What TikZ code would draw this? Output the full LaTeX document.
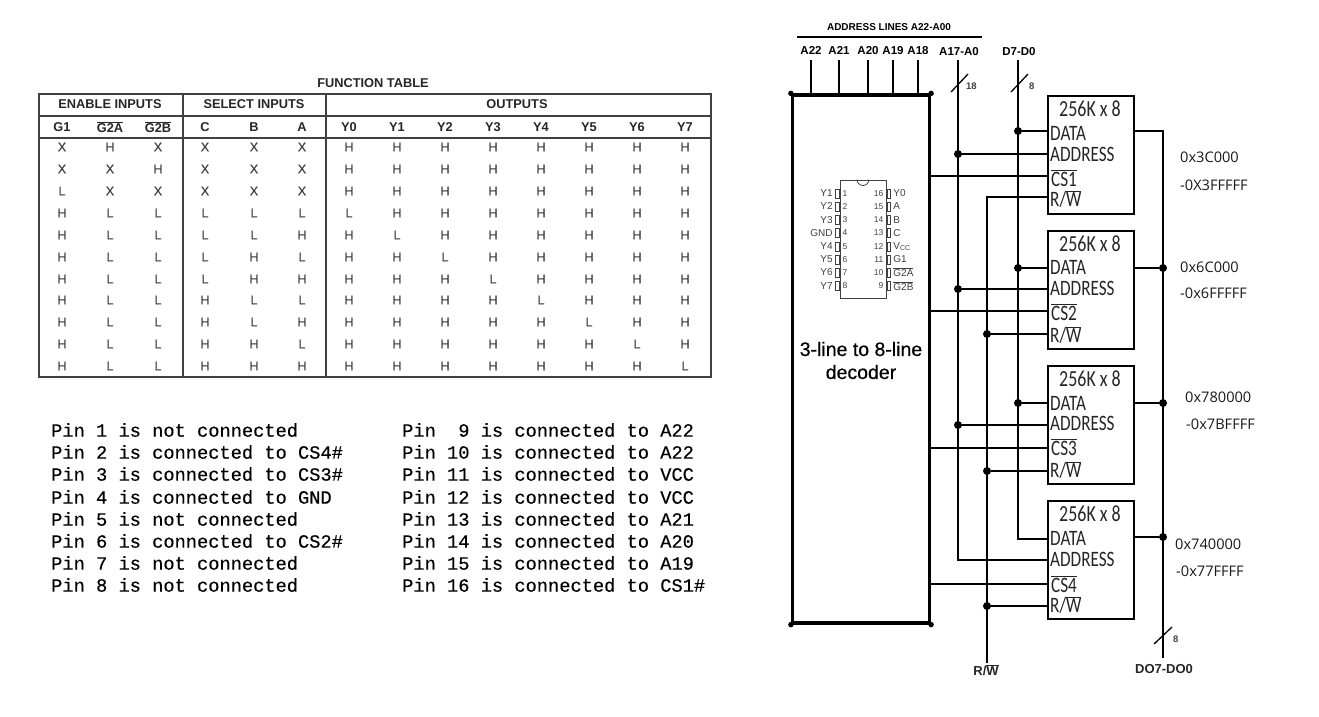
\documentclass[tikz,border=0pt]{standalone}
\usepackage{fontspec}
\setmainfont{Liberation Sans}
\setmonofont[FakeBold=0.4]{Liberation Mono}
\newfontfamily\ramfont[FakeStretch=0.78]{Carlito}
\newfontfamily\addrfont{Open Sans}
\newfontfamily\softbold[FakeBold=0.5]{Liberation Sans}
\usetikzlibrary{calc}
\newcommand{\ovl}[1]{\ensuremath{\overline{\mbox{#1}}}}
\definecolor{inkgray}{gray}{0.25}
\tikzset{
	cell/.style={anchor=center, inner sep=0pt, text=inkgray, font=\softbold\fontsize{12.5}{14}\selectfont},
	head/.style={anchor=center, inner sep=0pt, text=black!85, font=\bfseries\fontsize{12.8}{14}\selectfont},
	rule/.style={draw=inkgray, line width=1.4pt},
	pinline/.style={anchor=west, inner sep=0pt, font=\ttfamily\fontsize{18.7}{22}\selectfont},
	wire/.style={draw=black, line width=1.8pt},
	junct/.style={circle, fill=black, inner sep=0pt, minimum size=8pt},
	corner/.style={circle, fill=black, inner sep=0pt, minimum size=5.5pt},
	ram/.style={draw=black, line width=2pt, minimum width=86pt, minimum height=118pt, inner sep=0pt},
	ramtext/.style={anchor=west, inner sep=0pt, text=black!85, font=\ramfont\fontsize{22}{24}\selectfont},
	ramtitle/.style={anchor=center, inner sep=0pt, text=black!85, font=\ramfont\fontsize{23}{26}\selectfont},
	buslabel/.style={anchor=center, inner sep=0pt, font=\bfseries\fontsize{11.5}{13}\selectfont},
	endlabel/.style={anchor=center, inner sep=0pt, text=black!85, font=\bfseries\fontsize{13}{15}\selectfont},
	addr/.style={anchor=west, inner sep=0pt, text=black!90, font=\addrfont\fontsize{14.6}{16}\selectfont},
	stub/.style={draw=inkgray, line width=0.7pt, minimum width=3.5pt, minimum height=9pt, inner sep=0pt},
	pinname/.style={inner sep=0pt, text=inkgray, font=\fontsize{10}{11}\selectfont},
	pinno/.style={inner sep=0pt, text=inkgray, font=\fontsize{8.5}{10}\selectfont},
	decname/.style={anchor=center, inner sep=0pt, font=\softbold\fontsize{19.5}{21}\selectfont},
}

\begin{document}
\begin{tikzpicture}[x=1pt, y=-1pt]
	\useasboundingbox (0, 0) rectangle (1319, 716);
	% function table
	\node(tabletitle)[head] at (373, 83) {FUNCTION TABLE};
	\draw[rule] (39, 94) rectangle (711, 377);
	\draw[rule] (39, 116) -- (711, 116);
	\draw[rule] (39, 138) -- (711, 138);
	\draw[rule] (183, 94) -- (183, 377);
	\draw[rule] (326, 94) -- (326, 377);
	\node(henable)[head] at (110, 104.5) {ENABLE INPUTS};
	\node(hselect)[head] at (254, 104.5) {SELECT INPUTS};
	\node(houtputs)[head] at (517, 104.5) {OUTPUTS};
	\node(hc1)[head] at (62, 127) {G1};
	\node(hc2)[head] at (110, 127) {\ovl{G2A}};
	\node(hc3)[head] at (158, 127) {\ovl{G2B}};
	\node(hc4)[head] at (205, 127) {C};
	\node(hc5)[head] at (254, 127) {B};
	\node(hc6)[head] at (302, 127) {A};
	\node(hc7)[head] at (349, 127) {Y0};
	\node(hc8)[head] at (397, 127) {Y1};
	\node(hc9)[head] at (445, 127) {Y2};
	\node(hc10)[head] at (493, 127) {Y3};
	\node(hc11)[head] at (541, 127) {Y4};
	\node(hc12)[head] at (589, 127) {Y5};
	\node(hc13)[head] at (637, 127) {Y6};
	\node(hc14)[head] at (685, 127) {Y7};
	% column G1
	\node(r1c1)[cell] at (62, 147) {X};
	\node(r2c1)[cell] at (62, 169) {X};
	\node(r3c1)[cell] at (62, 191) {L};
	\node(r4c1)[cell] at (62, 213) {H};
	\node(r5c1)[cell] at (62, 235) {H};
	\node(r6c1)[cell] at (62, 257) {H};
	\node(r7c1)[cell] at (62, 279) {H};
	\node(r8c1)[cell] at (62, 300) {H};
	\node(r9c1)[cell] at (62, 322) {H};
	\node(r10c1)[cell] at (62, 344) {H};
	\node(r11c1)[cell] at (62, 366) {H};
	% column G2A
	\node(r1c2)[cell] at (110, 147) {H};
	\node(r2c2)[cell] at (110, 169) {X};
	\node(r3c2)[cell] at (110, 191) {X};
	\node(r4c2)[cell] at (110, 213) {L};
	\node(r5c2)[cell] at (110, 235) {L};
	\node(r6c2)[cell] at (110, 257) {L};
	\node(r7c2)[cell] at (110, 279) {L};
	\node(r8c2)[cell] at (110, 300) {L};
	\node(r9c2)[cell] at (110, 322) {L};
	\node(r10c2)[cell] at (110, 344) {L};
	\node(r11c2)[cell] at (110, 366) {L};
	% column G2B
	\node(r1c3)[cell] at (158, 147) {X};
	\node(r2c3)[cell] at (158, 169) {H};
	\node(r3c3)[cell] at (158, 191) {X};
	\node(r4c3)[cell] at (158, 213) {L};
	\node(r5c3)[cell] at (158, 235) {L};
	\node(r6c3)[cell] at (158, 257) {L};
	\node(r7c3)[cell] at (158, 279) {L};
	\node(r8c3)[cell] at (158, 300) {L};
	\node(r9c3)[cell] at (158, 322) {L};
	\node(r10c3)[cell] at (158, 344) {L};
	\node(r11c3)[cell] at (158, 366) {L};
	% column C
	\node(r1c4)[cell] at (205, 147) {X};
	\node(r2c4)[cell] at (205, 169) {X};
	\node(r3c4)[cell] at (205, 191) {X};
	\node(r4c4)[cell] at (205, 213) {L};
	\node(r5c4)[cell] at (205, 235) {L};
	\node(r6c4)[cell] at (205, 257) {L};
	\node(r7c4)[cell] at (205, 279) {L};
	\node(r8c4)[cell] at (205, 300) {H};
	\node(r9c4)[cell] at (205, 322) {H};
	\node(r10c4)[cell] at (205, 344) {H};
	\node(r11c4)[cell] at (205, 366) {H};
	% column B
	\node(r1c5)[cell] at (254, 147) {X};
	\node(r2c5)[cell] at (254, 169) {X};
	\node(r3c5)[cell] at (254, 191) {X};
	\node(r4c5)[cell] at (254, 213) {L};
	\node(r5c5)[cell] at (254, 235) {L};
	\node(r6c5)[cell] at (254, 257) {H};
	\node(r7c5)[cell] at (254, 279) {H};
	\node(r8c5)[cell] at (254, 300) {L};
	\node(r9c5)[cell] at (254, 322) {L};
	\node(r10c5)[cell] at (254, 344) {H};
	\node(r11c5)[cell] at (254, 366) {H};
	% column A
	\node(r1c6)[cell] at (302, 147) {X};
	\node(r2c6)[cell] at (302, 169) {X};
	\node(r3c6)[cell] at (302, 191) {X};
	\node(r4c6)[cell] at (302, 213) {L};
	\node(r5c6)[cell] at (302, 235) {H};
	\node(r6c6)[cell] at (302, 257) {L};
	\node(r7c6)[cell] at (302, 279) {H};
	\node(r8c6)[cell] at (302, 300) {L};
	\node(r9c6)[cell] at (302, 322) {H};
	\node(r10c6)[cell] at (302, 344) {L};
	\node(r11c6)[cell] at (302, 366) {H};
	% column Y0
	\node(r1c7)[cell] at (349, 147) {H};
	\node(r2c7)[cell] at (349, 169) {H};
	\node(r3c7)[cell] at (349, 191) {H};
	\node(r4c7)[cell] at (349, 213) {L};
	\node(r5c7)[cell] at (349, 235) {H};
	\node(r6c7)[cell] at (349, 257) {H};
	\node(r7c7)[cell] at (349, 279) {H};
	\node(r8c7)[cell] at (349, 300) {H};
	\node(r9c7)[cell] at (349, 322) {H};
	\node(r10c7)[cell] at (349, 344) {H};
	\node(r11c7)[cell] at (349, 366) {H};
	% column Y1
	\node(r1c8)[cell] at (397, 147) {H};
	\node(r2c8)[cell] at (397, 169) {H};
	\node(r3c8)[cell] at (397, 191) {H};
	\node(r4c8)[cell] at (397, 213) {H};
	\node(r5c8)[cell] at (397, 235) {L};
	\node(r6c8)[cell] at (397, 257) {H};
	\node(r7c8)[cell] at (397, 279) {H};
	\node(r8c8)[cell] at (397, 300) {H};
	\node(r9c8)[cell] at (397, 322) {H};
	\node(r10c8)[cell] at (397, 344) {H};
	\node(r11c8)[cell] at (397, 366) {H};
	% column Y2
	\node(r1c9)[cell] at (445, 147) {H};
	\node(r2c9)[cell] at (445, 169) {H};
	\node(r3c9)[cell] at (445, 191) {H};
	\node(r4c9)[cell] at (445, 213) {H};
	\node(r5c9)[cell] at (445, 235) {H};
	\node(r6c9)[cell] at (445, 257) {L};
	\node(r7c9)[cell] at (445, 279) {H};
	\node(r8c9)[cell] at (445, 300) {H};
	\node(r9c9)[cell] at (445, 322) {H};
	\node(r10c9)[cell] at (445, 344) {H};
	\node(r11c9)[cell] at (445, 366) {H};
	% column Y3
	\node(r1c10)[cell] at (493, 147) {H};
	\node(r2c10)[cell] at (493, 169) {H};
	\node(r3c10)[cell] at (493, 191) {H};
	\node(r4c10)[cell] at (493, 213) {H};
	\node(r5c10)[cell] at (493, 235) {H};
	\node(r6c10)[cell] at (493, 257) {H};
	\node(r7c10)[cell] at (493, 279) {L};
	\node(r8c10)[cell] at (493, 300) {H};
	\node(r9c10)[cell] at (493, 322) {H};
	\node(r10c10)[cell] at (493, 344) {H};
	\node(r11c10)[cell] at (493, 366) {H};
	% column Y4
	\node(r1c11)[cell] at (541, 147) {H};
	\node(r2c11)[cell] at (541, 169) {H};
	\node(r3c11)[cell] at (541, 191) {H};
	\node(r4c11)[cell] at (541, 213) {H};
	\node(r5c11)[cell] at (541, 235) {H};
	\node(r6c11)[cell] at (541, 257) {H};
	\node(r7c11)[cell] at (541, 279) {H};
	\node(r8c11)[cell] at (541, 300) {L};
	\node(r9c11)[cell] at (541, 322) {H};
	\node(r10c11)[cell] at (541, 344) {H};
	\node(r11c11)[cell] at (541, 366) {H};
	% column Y5
	\node(r1c12)[cell] at (589, 147) {H};
	\node(r2c12)[cell] at (589, 169) {H};
	\node(r3c12)[cell] at (589, 191) {H};
	\node(r4c12)[cell] at (589, 213) {H};
	\node(r5c12)[cell] at (589, 235) {H};
	\node(r6c12)[cell] at (589, 257) {H};
	\node(r7c12)[cell] at (589, 279) {H};
	\node(r8c12)[cell] at (589, 300) {H};
	\node(r9c12)[cell] at (589, 322) {L};
	\node(r10c12)[cell] at (589, 344) {H};
	\node(r11c12)[cell] at (589, 366) {H};
	% column Y6
	\node(r1c13)[cell] at (637, 147) {H};
	\node(r2c13)[cell] at (637, 169) {H};
	\node(r3c13)[cell] at (637, 191) {H};
	\node(r4c13)[cell] at (637, 213) {H};
	\node(r5c13)[cell] at (637, 235) {H};
	\node(r6c13)[cell] at (637, 257) {H};
	\node(r7c13)[cell] at (637, 279) {H};
	\node(r8c13)[cell] at (637, 300) {H};
	\node(r9c13)[cell] at (637, 322) {H};
	\node(r10c13)[cell] at (637, 344) {L};
	\node(r11c13)[cell] at (637, 366) {H};
	% column Y7
	\node(r1c14)[cell] at (685, 147) {H};
	\node(r2c14)[cell] at (685, 169) {H};
	\node(r3c14)[cell] at (685, 191) {H};
	\node(r4c14)[cell] at (685, 213) {H};
	\node(r5c14)[cell] at (685, 235) {H};
	\node(r6c14)[cell] at (685, 257) {H};
	\node(r7c14)[cell] at (685, 279) {H};
	\node(r8c14)[cell] at (685, 300) {H};
	\node(r9c14)[cell] at (685, 322) {H};
	\node(r10c14)[cell] at (685, 344) {H};
	\node(r11c14)[cell] at (685, 366) {L};
	% pin list
	\node(pl1)[pinline] at (51, 430) {Pin 1 is not connected};
	\node(pl2)[pinline] at (51, 452) {Pin 2 is connected to CS4\#};
	\node(pl3)[pinline] at (51, 474) {Pin 3 is connected to CS3\#};
	\node(pl4)[pinline] at (51, 497) {Pin 4 is connected to GND};
	\node(pl5)[pinline] at (51, 519) {Pin 5 is not connected};
	\node(pl6)[pinline] at (51, 541) {Pin 6 is connected to CS2\#};
	\node(pl7)[pinline] at (51, 563) {Pin 7 is not connected};
	\node(pl8)[pinline] at (51, 585) {Pin 8 is not connected};
	\node(pl9)[pinline] at (402, 430) {Pin~~9 is connected to A22};
	\node(pl10)[pinline] at (402, 452) {Pin 10 is connected to A22};
	\node(pl11)[pinline] at (402, 474) {Pin 11 is connected to VCC};
	\node(pl12)[pinline] at (402, 497) {Pin 12 is connected to VCC};
	\node(pl13)[pinline] at (402, 519) {Pin 13 is connected to A21};
	\node(pl14)[pinline] at (402, 541) {Pin 14 is connected to A20};
	\node(pl15)[pinline] at (402, 563) {Pin 15 is connected to A19};
	\node(pl16)[pinline] at (402, 585) {Pin 16 is connected to CS1\#};
	% decoder
	\node(dec)[draw=black, line width=3.2pt, minimum width=137pt, minimum height=528pt, inner sep=0pt] at (861, 359) {};
	\node(decnw)[corner] at (dec.north west) {};
	\node(decne)[corner] at (dec.north east) {};
	\node(decsw)[corner] at (dec.south west) {};
	\node(decse)[corner] at (dec.south east) {};
	\node(dectext1)[decname] at (861, 349) {3-line to 8-line};
	\node(dectext2)[decname] at (861, 372) {decoder};
	% chip inside the decoder
	\node(chip)[draw=inkgray, line width=1pt, minimum width=46pt, minimum height=118pt, inner sep=0pt] at (863, 239) {};
	\draw[draw=inkgray, line width=0.8pt] ($(chip.north)+(-6, 0)$) arc[start angle=180, end angle=0, radius=6];
	\node(sl1)[stub, anchor=east] at (chip.west |- 0, 193.5) {};
	\node(sl2)[stub, anchor=east] at (chip.west |- 0, 206.5) {};
	\node(sl3)[stub, anchor=east] at (chip.west |- 0, 220) {};
	\node(sl4)[stub, anchor=east] at (chip.west |- 0, 233) {};
	\node(sl5)[stub, anchor=east] at (chip.west |- 0, 246.5) {};
	\node(sl6)[stub, anchor=east] at (chip.west |- 0, 259.5) {};
	\node(sl7)[stub, anchor=east] at (chip.west |- 0, 272.5) {};
	\node(sl8)[stub, anchor=east] at (chip.west |- 0, 286) {};
	\node(sr16)[stub, anchor=west] at (chip.east |- 0, 193.5) {};
	\node(sr15)[stub, anchor=west] at (chip.east |- 0, 206.5) {};
	\node(sr14)[stub, anchor=west] at (chip.east |- 0, 220) {};
	\node(sr13)[stub, anchor=west] at (chip.east |- 0, 233) {};
	\node(sr12)[stub, anchor=west] at (chip.east |- 0, 246.5) {};
	\node(sr11)[stub, anchor=west] at (chip.east |- 0, 259.5) {};
	\node(sr10)[stub, anchor=west] at (chip.east |- 0, 272.5) {};
	\node(sr9)[stub, anchor=west] at (chip.east |- 0, 286) {};
	\node(nl1)[pinno, anchor=west] at ($(sl1.east)+(3, 0)$) {1};
	\node(nl2)[pinno, anchor=west] at ($(sl2.east)+(3, 0)$) {2};
	\node(nl3)[pinno, anchor=west] at ($(sl3.east)+(3, 0)$) {3};
	\node(nl4)[pinno, anchor=west] at ($(sl4.east)+(3, 0)$) {4};
	\node(nl5)[pinno, anchor=west] at ($(sl5.east)+(3, 0)$) {5};
	\node(nl6)[pinno, anchor=west] at ($(sl6.east)+(3, 0)$) {6};
	\node(nl7)[pinno, anchor=west] at ($(sl7.east)+(3, 0)$) {7};
	\node(nl8)[pinno, anchor=west] at ($(sl8.east)+(3, 0)$) {8};
	\node(nr16)[pinno, anchor=east] at ($(sr16.west)+(-3, 0)$) {16};
	\node(nr15)[pinno, anchor=east] at ($(sr15.west)+(-3, 0)$) {15};
	\node(nr14)[pinno, anchor=east] at ($(sr14.west)+(-3, 0)$) {14};
	\node(nr13)[pinno, anchor=east] at ($(sr13.west)+(-3, 0)$) {13};
	\node(nr12)[pinno, anchor=east] at ($(sr12.west)+(-3, 0)$) {12};
	\node(nr11)[pinno, anchor=east] at ($(sr11.west)+(-3, 0)$) {11};
	\node(nr10)[pinno, anchor=east] at ($(sr10.west)+(-3, 0)$) {10};
	\node(nr9)[pinno, anchor=east] at ($(sr9.west)+(-3, 0)$) {9};
	\node(ml1)[pinname, anchor=east] at ($(sl1.west)+(-2.5, 0)$) {Y1};
	\node(ml2)[pinname, anchor=east] at ($(sl2.west)+(-2.5, 0)$) {Y2};
	\node(ml3)[pinname, anchor=east] at ($(sl3.west)+(-2.5, 0)$) {Y3};
	\node(ml4)[pinname, anchor=east] at ($(sl4.west)+(-2.5, 0)$) {GND};
	\node(ml5)[pinname, anchor=east] at ($(sl5.west)+(-2.5, 0)$) {Y4};
	\node(ml6)[pinname, anchor=east] at ($(sl6.west)+(-2.5, 0)$) {Y5};
	\node(ml7)[pinname, anchor=east] at ($(sl7.west)+(-2.5, 0)$) {Y6};
	\node(ml8)[pinname, anchor=east] at ($(sl8.west)+(-2.5, 0)$) {Y7};
	\node(mr16)[pinname, anchor=west] at ($(sr16.east)+(2.5, 0)$) {Y0};
	\node(mr15)[pinname, anchor=west] at ($(sr15.east)+(2.5, 0)$) {A};
	\node(mr14)[pinname, anchor=west] at ($(sr14.east)+(2.5, 0)$) {B};
	\node(mr13)[pinname, anchor=west] at ($(sr13.east)+(2.5, 0)$) {C};
	\node(mr12)[pinname, anchor=west] at ($(sr12.east)+(2.5, 0)$) {V\textsubscript{CC}};
	\node(mr11)[pinname, anchor=west] at ($(sr11.east)+(2.5, 0)$) {G1};
	\node(mr10)[pinname, anchor=west] at ($(sr10.east)+(2.5, 0)$) {\ovl{G2A}};
	\node(mr9)[pinname, anchor=west] at ($(sr9.east)+(2.5, 0)$) {\ovl{G2B}};
	% address lines
	\node(alltitle)[anchor=center, inner sep=0pt, font=\bfseries\fontsize{10}{12}\selectfont] at (889, 27) {ADDRESS LINES A22-A00};
	\coordinate (barl) at (797, 37);
	\coordinate (barr) at (982, 37);
	\draw[line width=1.3pt] (barl) -- (barr);
	\node(la22)[buslabel, anchor=south] at (811, 55) {A22};
	\node(la21)[buslabel, anchor=south] at (839, 55) {A21};
	\node(la20)[buslabel, anchor=south] at (868, 55) {A20};
	\node(la19)[buslabel, anchor=south] at (893, 55) {A19};
	\node(la18)[buslabel, anchor=south] at (918, 55) {A18};
	\node(la17)[buslabel, anchor=south] at (959, 56) {A17-A0};
	\node(ld7)[buslabel, anchor=south] at (1019, 56) {D7-D0};
	\coordinate (ta22) at (811, 60);
	\coordinate (ta21) at (839, 60);
	\coordinate (ta20) at (868, 60);
	\coordinate (ta19) at (893, 60);
	\coordinate (ta18) at (918, 60);
	\coordinate (ta17) at (958, 60);
	\coordinate (td7) at (1018, 60);
	\draw[wire] (ta22) -- (ta22 |- dec.north);
	\draw[wire] (ta21) -- (ta21 |- dec.north);
	\draw[wire] (ta20) -- (ta20 |- dec.north);
	\draw[wire] (ta19) -- (ta19 |- dec.north);
	\draw[wire] (ta18) -- (ta18 |- dec.north);
	% memory blocks
	\node(ram1)[ram, anchor=north west] at (1047, 95) {};
	\node(ram2)[ram, anchor=north west] at (1047, 229.5) {};
	\node(ram3)[ram, anchor=north west] at (1047, 364.5) {};
	\node(ram4)[ram, anchor=north west] at (1047, 500) {};
	\node(title1)[ramtitle] at (1090, 109) {256K x 8};
	\node(title2)[ramtitle] at (1090, 244) {256K x 8};
	\node(title3)[ramtitle] at (1090, 379) {256K x 8};
	\node(title4)[ramtitle] at (1090, 514) {256K x 8};
	\node(data1)[ramtext] at (1050, 133) {DATA};
	\node(data2)[ramtext] at (1050, 267) {DATA};
	\node(data3)[ramtext] at (1050, 403) {DATA};
	\node(data4)[ramtext] at (1050, 538) {DATA};
	\node(adr1)[ramtext] at (1050, 154) {ADDRESS};
	\node(adr2)[ramtext] at (1050, 288) {ADDRESS};
	\node(adr3)[ramtext] at (1050, 423) {ADDRESS};
	\node(adr4)[ramtext] at (1050, 559) {ADDRESS};
	\node(cs1)[ramtext] at (1051, 178) {\ovl{CS1}};
	\node(cs2)[ramtext] at (1051, 312) {\ovl{CS2}};
	\node(cs3)[ramtext] at (1051, 447) {\ovl{CS3}};
	\node(cs4)[ramtext] at (1051, 584) {\ovl{CS4}};
	\node(rw1)[ramtext] at (1050, 199) {R/\ovl{W}};
	\node(rw2)[ramtext] at (1050, 335) {R/\ovl{W}};
	\node(rw3)[ramtext] at (1050, 470) {R/\ovl{W}};
	\node(rw4)[ramtext] at (1050, 605) {R/\ovl{W}};
	% bus ends
	\node(lrw)[endlabel] at (986, 670) {R/\ovl{W}};
	\node(ldo)[endlabel] at (1164, 669) {DO7-DO0};
	\coordinate (endrw) at (987, 663);
	\coordinate (enddo) at (1163, 658);
	% data junctions
	\node(jd1)[junct] at (1018, 131) {};
	\node(jd2)[junct] at (1018, 268) {};
	\node(jd3)[junct] at (1018, 403) {};
	\coordinate (jd4) at (1018, 539);
	\draw[wire] (td7) -- (jd4) -- (jd4 -| ram4.west);
	\draw[wire] (jd1) -- (jd1 -| ram1.west);
	\draw[wire] (jd2) -- (jd2 -| ram2.west);
	\draw[wire] (jd3) -- (jd3 -| ram3.west);
	% address junctions
	\node(ja1)[junct] at (958, 154) {};
	\node(ja2)[junct] at (958, 289) {};
	\node(ja3)[junct] at (958, 425) {};
	\coordinate (ja4) at (958, 560);
	\draw[wire] (ta17) -- (ja4) -- (ja4 -| ram4.west);
	\draw[wire] (ja1) -- (ja1 -| ram1.west);
	\draw[wire] (ja2) -- (ja2 -| ram2.west);
	\draw[wire] (ja3) -- (ja3 -| ram3.west);
	% chip selects
	\coordinate (w1) at (1047, 176);
	\coordinate (w2) at (1047, 311);
	\coordinate (w3) at (1047, 448);
	\coordinate (w4) at (1047, 584);
	\draw[wire] (w1 -| dec.east) -- (w1);
	\draw[wire] (w2 -| dec.east) -- (w2);
	\draw[wire] (w3 -| dec.east) -- (w3);
	\draw[wire] (w4 -| dec.east) -- (w4);
	% read write
	\coordinate (jr1) at (987, 197);
	\node(jr2)[junct] at (987, 334) {};
	\node(jr3)[junct] at (987, 471) {};
	\node(jr4)[junct] at (987, 606) {};
	\draw[wire] (jr1 -| ram1.west) -- (jr1) -- (endrw);
	\draw[wire] (jr2) -- (jr2 -| ram2.west);
	\draw[wire] (jr3) -- (jr3 -| ram3.west);
	\draw[wire] (jr4) -- (jr4 -| ram4.west);
	% output bus
	\coordinate (jo1) at (1163, 131);
	\node(jo2)[junct] at (1163, 268) {};
	\node(jo3)[junct] at (1163, 403) {};
	\node(jo4)[junct] at (1163, 537) {};
	\draw[wire] (jo1 -| ram1.east) -- (jo1) -- (enddo);
	\draw[wire] (jo2 -| ram2.east) -- (jo2);
	\draw[wire] (jo3 -| ram3.east) -- (jo3);
	\draw[wire] (jo4 -| ram4.east) -- (jo4);
	% bus width marks
	\draw[line width=1.3pt] (951, 92) -- (968, 74);
	\draw[line width=1.3pt] (1011, 92) -- (1028, 74);
	\draw[line width=1.3pt] (1154, 644) -- (1172, 627);
	\node(w18)[anchor=west, inner sep=0pt, font=\bfseries\fontsize{9.5}{10}\selectfont, text=inkgray] at (966, 86.5) {18};
	\node(w8a)[anchor=west, inner sep=0pt, font=\bfseries\fontsize{9.5}{10}\selectfont, text=inkgray] at (1029, 86.5) {8};
	\node(w8b)[anchor=west, inner sep=0pt, font=\bfseries\fontsize{9.5}{10}\selectfont, text=inkgray] at (1173, 639) {8};
	% address ranges
	\node(rg1a)[addr] at (1180, 157) {0x3C000};
	\node(rg1b)[addr] at (1180, 185) {-0X3FFFFF};
	\node(rg2a)[addr] at (1180, 267) {0x6C000};
	\node(rg2b)[addr] at (1180, 293) {-0x6FFFFF};
	\node(rg3a)[addr] at (1185, 397) {0x780000};
	\node(rg3b)[addr] at (1186, 424) {-0x7BFFFF};
	\node(rg4a)[addr] at (1175, 544) {0x740000};
	\node(rg4b)[addr] at (1176, 571) {-0x77FFFF};
\end{tikzpicture}
\end{document}
